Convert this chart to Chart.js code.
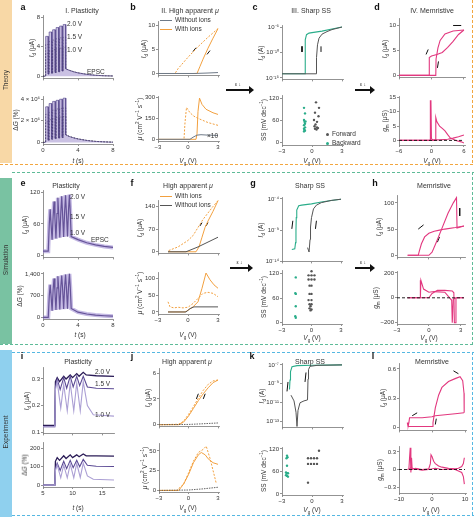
<!DOCTYPE html>
<html><head><meta charset="utf-8">
<script src="https://cdn.jsdelivr.net/npm/chart.js"></script>
<style>
body{margin:0;background:#fff;width:474px;height:517px;overflow:hidden;position:relative;font-family:"Liberation Sans",Arial,sans-serif;color:#333}
.box{position:absolute}
.t{position:absolute;white-space:nowrap;line-height:1;transform:translate(-50%,-50%);font-size:6.5px}
.l{transform:translate(0,-50%)}
.v{transform:translate(-50%,-50%) rotate(-90deg)}
.ttl{font-size:7px;color:#333}
.let{font-size:9px;font-weight:bold;color:#111}
.side{position:absolute;left:0;width:12px}
.dh{position:absolute;height:1.4px}
.dv{position:absolute;width:1.4px}
sub,sup{font-size:70%;line-height:0}
.arr{position:absolute;height:2px;background:#111}
.arr:after{content:"";position:absolute;right:-4px;top:-3px;border-left:5px solid #111;border-top:4px solid transparent;border-bottom:4px solid transparent}
</style></head><body>
<script>
// ---- Theory: plasticity (a)
const aOn = [0.3, 0.7, 1.1, 1.5, 1.9, 2.3];
const aOff = [0.6, 1.0, 1.4, 1.8, 2.2, 2.6];
const aPeak20 = [5.4, 6.0, 6.3, 6.6, 6.8, 7.0];
const aPeak15 = [4.3, 4.7, 4.9, 5.1, 5.2, 5.3];
const aPeak10 = [3.1, 3.4, 3.6, 3.7, 3.8, 3.9];
const aGap = [0.3, 0.4, 0.5, 0.6, 0.7];
const aTail = [[2.6,1.0],[3,0.8],[3.5,0.6],[4,0.45],[5,0.25],[6,0.12],[7,0.06],[8,0.03]];
const aDG20 = [3.3e6, 3.6e6, 3.8e6, 3.9e6, 4.0e6, 4.1e6];
const aDG15 = [2.6e6, 2.8e6, 3.0e6, 3.1e6, 3.15e6, 3.2e6];
const aDG10 = [1.9e6, 2.1e6, 2.2e6, 2.3e6, 2.35e6, 2.4e6];
const aDGGap = [0.2e6, 0.3e6, 0.35e6, 0.4e6, 0.45e6];
const aDGTail = [[2.6,0.7e6],[3,0.55e6],[3.5,0.42e6],[4,0.32e6],[5,0.18e6],[6,0.09e6],[7,0.05e6],[8,0.02e6]];
// ---- Theory: high apparent mobility (b)
const bWithout = [[-3,0],[0.5,0],[1,0.03],[2,0.1],[3,0.2]];
const bWithFwd = [[-3,0],[0.9,0],[1.2,1.5],[1.5,3.0],[2,5.3],[2.5,7.4],[3,9.4]];
const bWithBwd = [[3,9.4],[2,7.6],[1,5.6],[0,3.4],[-1,1.0],[-1.3,0]];
const bMuWithout = [[-3,0],[0.2,0],[0.5,15],[0.9,30],[1.3,33],[2,30],[3,28]];
const bMuFwd = [[-3,0],[0.8,0],[0.9,40],[1.0,200],[1.15,295],[1.4,250],[1.8,215],[2.5,190],[3,178]];
const bMuBwd = [[3,100],[2,120],[1,150],[0.6,165],[0.2,190],[-0.15,228],[-0.3,120],[-0.4,0]];
const bArrows = [[[0.8,5.4],[0.5,4.6]],[[1.9,4.0],[2.2,4.8]]];
// ---- Theory: sharp SS (c), log10 current
const cFwd = [[-3,-14.2],[0.4,-14.2],[0.45,-11],[0.55,-8.5],[0.7,-7.2],[1.0,-6.4],[1.5,-5.9],[2,-5.5],[3,-5.0]];
const cBwd = [[-3,-14.2],[-0.7,-14.2],[-0.7,-10],[-0.65,-7.5],[-0.55,-6.5],[-0.3,-6.2],[0,-6.1],[1,-5.8],[2,-5.4],[3,-5.0]];
const cSSFwd = [[0.4,110],[0.7,95],[0.3,82],[0.65,72],[0.2,62],[0.5,57],[0.35,50],[0.25,45],[0.5,42],[0.6,40],[0.3,38],[0.45,36]];
const cSSBwd = [[-0.8,95],[-0.7,80],[-0.8,62],[-0.75,57],[-0.7,52],[-0.8,48],[-0.7,42],[-0.8,38],[-0.75,35],[-0.7,33],[-0.8,31],[-0.65,58]];
const cArrows = [[[-1.0,-8.8],[-1.0,-9.9]],[[0.9,-9.9],[0.9,-8.8]]];
// ---- Theory: memristive (d)
const dFwd = [[-6,0],[0.8,0],[0.85,3.3],[1.2,5.5],[1.6,7.0],[2.5,8.3],[4,8.9],[6,9.1]];
const dBwd = [[6,9.1],[5,8.2],[4,6.8],[3,5.6],[2,4.6],[1,4.2],[0,3.9],[-0.4,3.6],[-0.4,0],[-6,0]];
const dGmFwd = [[-6,0],[0.7,0],[0.8,8],[1.0,6.5],[1.5,5.0],[2,4.2],[2.5,3.3],[3,2.0],[3.5,0.8],[4.5,0],[5.5,-0.5],[6,-0.9]];
const dGmBwd = [[6,1.9],[5,1.3],[4,0.8],[3,0.4],[1.5,0.2],[0.3,0.2],[0,0.5],[-0.1,14],[-0.2,0],[-6,0]];
const dZero = [[-6,0],[6,0]];
const dArrows = [[[4,10],[5.5,10]],[[-0.6,5.2],[-1.0,4.2]],[[1.1,1.5],[1.3,2.8]]];
// ---- Simulation: plasticity (e)
const e20 = [[0,8],[0.6,8],[0.72,60],[0.82,88],[0.92,60],[1.04,30],[1.16,75],[1.26,103],[1.36,72],[1.48,32],[1.6,80],[1.7,110],[1.8,76],[1.92,34],[2.04,84],[2.14,113],[2.24,78],[2.36,35],[2.48,86],[2.58,115],[2.68,80],[2.8,36],[2.92,88],[3.02,116],[3.12,80],[3.22,36],[4,30],[5,24],[6,20],[7,17],[8,15]];
const eDG = [[0,0],[0.6,0],[0.72,700],[0.82,1050],[0.92,700],[1.04,220],[1.16,900],[1.26,1250],[1.36,850],[1.48,240],[1.6,950],[1.7,1320],[1.8,900],[1.92,260],[2.04,1000],[2.14,1350],[2.24,920],[2.36,270],[2.48,1010],[2.58,1380],[2.68,930],[2.8,280],[2.92,1020],[3.02,1400],[3.12,940],[3.22,290],[4,170],[5,110],[6,75],[7,55],[8,40]];
// ---- Simulation: high apparent mobility (f)
const fWithFwd = [[-2,0],[0.8,0],[1.1,15],[1.4,45],[1.7,75],[2,95],[2.5,125],[3,158]];
const fWithBwd = [[3,158],[2.5,140],[2,120],[1.5,100],[1,75],[0.5,50],[0,35],[-1,15],[-2,3]];
const fWithout = [[-2,0],[-0.2,0],[1,15],[2,30],[3,45]];
const fMuFwd = [[-2,0],[-0.3,0],[0,5],[0.5,15],[1,30],[1.4,70],[1.8,115],[2.2,95],[2.6,80],[3,70]];
const fMuBwd = [[-2,30],[-1.8,15],[-1.4,12],[-1,14],[-0.5,12],[0,14],[0.5,25],[1,40],[1.5,55],[2,58],[2.5,55],[3,45]];
const fMuWithout = [[-2,0],[-0.2,0],[0.2,10],[0.6,15],[3,15]];
const fArrows = [[[1.4,90],[1.2,80]],[[1.8,80],[2.0,90]]];
// ---- Simulation: sharp SS (g), log10 current
const gFwd = [[-0.4,-11.8],[-0.25,-12.5],[-0.15,-10.5],[-0.1,-8.5],[0,-7],[0.2,-5.6],[0.5,-5.0],[1,-4.6],[2,-4.25],[3,-4.05]];
const gBwd = [[-2,-12.1],[-1.7,-12.0],[-1.62,-11],[-1.58,-9],[-1.55,-7],[-1.5,-5.8],[-1.3,-5.1],[-1,-5.0],[0,-4.8],[1,-4.5],[2,-4.25],[3,-4.05]];
const gSSFwd = [[0,125],[-0.3,115],[0,115],[0.3,115],[-0.3,105],[0,105],[0.3,105],[0,90],[-0.2,90],[0,70],[-0.2,70],[0,55],[-0.3,55],[0,45],[-0.2,45],[-0.1,40],[-0.2,35],[0,32],[-0.1,30]];
const gSSBwd = [[-1.6,110],[-1.65,72],[-1.6,70],[-1.6,40],[-1.65,16],[-1.6,12]];
const gArrows = [[[-1.9,-7.5],[-2.0,-8.8]],[[0.4,-8.8],[0.5,-7.5]]];
// ---- Simulation: memristive (h)
const hFwd = [[-2,0],[0,0],[0.3,6],[0.7,25],[1.2,50],[1.8,80],[2.3,100],[2.6,110],[2.65,52],[3.3,56]];
const hBwd = [[3.3,56],[2.5,53],[1.5,50],[1,48],[0.5,46],[0,42],[-0.4,35],[-0.7,22],[-0.9,8],[-1,0],[-2,0]];
const hGmFwd = [[-2,0],[0,0],[0.3,35],[0.8,60],[1.5,60],[2.2,55],[2.35,40],[2.4,-200],[2.5,-200],[2.55,0],[3.3,0]];
const hGmBwd = [[3.3,0],[2.6,0],[2.3,-10],[2.2,-200],[2.15,-20],[1.5,45],[0.5,50],[0,45],[-0.5,70],[-0.75,140],[-0.8,0],[-2,0]];
const hZero = [[-3,0],[3.3,0]];
const hArrows = [[[-0.5,58],[-1.0,50]],[[0.8,25],[1.0,35]],[[2.9,90],[2.9,75]]];
// ---- Experiment: plasticity (i)
const i20 = [[5,0.125],[7,0.125],[7.1,0.29],[7.4,0.305],[7.8,0.29],[8.5,0.31],[8.9,0.3],[9.6,0.315],[10.0,0.305],[10.7,0.32],[11.1,0.31],[11.8,0.325],[12.3,0.315],[14,0.312],[17,0.31]];
const i15 = [[5,0.12],[7,0.12],[7.1,0.27],[7.4,0.3],[7.9,0.26],[8.5,0.305],[9,0.265],[9.6,0.31],[10.1,0.27],[10.7,0.31],[11.2,0.275],[11.8,0.31],[12.5,0.27],[14,0.265],[17,0.263]];
const i10 = [[5,0.12],[7,0.12],[7.1,0.26],[7.4,0.29],[8.0,0.19],[8.5,0.28],[9.1,0.18],[9.6,0.285],[10.2,0.18],[10.7,0.285],[11.3,0.18],[11.8,0.29],[12.5,0.2],[13.5,0.165],[17,0.16]];
const iDG20 = [[5,0],[7,0],[7.1,130],[7.4,150],[7.8,135],[8.5,160],[8.9,145],[9.6,165],[10.0,150],[10.7,165],[11.1,155],[11.8,170],[12.3,160],[14,160],[17,158]];
const iDG15 = [[5,0],[7,0],[7.1,90],[7.4,120],[7.9,80],[8.5,130],[9,90],[9.6,135],[10.1,95],[10.7,135],[11.2,100],[11.8,140],[12.5,108],[14,103],[17,102]];
const iDG10 = [[5,0],[7,0],[7.1,80],[7.4,110],[8.0,40],[8.5,110],[9.1,40],[9.6,115],[10.2,40],[10.7,118],[11.3,42],[11.8,120],[12.5,50],[13.5,32],[17,28]];
// ---- Experiment: high apparent mobility (j)
const jFwd = [[-3,0],[-1,0],[-0.5,0.3],[0,1.0],[0.5,1.9],[1,2.8],[1.5,3.6],[2,4.3],[2.5,4.9],[3,5.2]];
const jBwd = [[3,5.2],[2.5,5.1],[2,4.7],[1.5,4.0],[1,3.1],[0.5,2.1],[0,1.2],[-0.5,0.4],[-1,0.05],[-3,0]];
const jWithout = [[-3,0],[0,0.03],[1,0.08],[2,0.14],[3,0.2]];
const jMuFwd = [[-3,0],[-1,0],[-0.5,8],[0,20],[0.5,35],[1,45],[1.3,48],[1.7,45],[2,40],[2.5,35],[3,33]];
const jMuBwd = [[2.8,10],[2.5,25],[2.2,40],[1.8,56],[1.5,52],[1,48],[0.5,37],[0,22],[-0.5,8],[-1.2,0],[-3,0]];
const jMuWithout = [[-3,0],[0,0.5],[1.5,2],[3,4]];
const jArrows = [[[1.0,3.6],[0.8,3.0]],[[1.5,3.0],[1.7,3.6]]];
// ---- Experiment: sharp SS (k), log10 current
const kFwd = [[-2.1,-10.2],[-1.8,-10.8],[-1.6,-12.0],[-1.5,-13.5],[-1.4,-11.8],[-1.2,-11.0],[-0.8,-10.8],[-0.45,-10.7],[-0.4,-8.5],[-0.35,-7.5],[-0.2,-7.15],[0.5,-7.05],[3,-7.0]];
const kBwd = [[-2.25,-9.6],[-2.2,-8.6],[-2.15,-7.7],[-2.0,-7.2],[-1.5,-7.08],[0,-7.03],[3,-7.0]];
const kSSFwd = [[0.7,115],[-0.4,95],[-0.1,95],[0.2,95],[0.5,95],[-0.4,80],[-0.1,80],[0.2,80],[0.5,80],[-0.4,30]];
const kSSBwd = [[-2.5,102],[-2.45,98],[-2.55,95],[-2.5,75],[-2.6,57],[-2.5,55],[-2.4,55],[-2.6,50],[-2.5,48],[-2.4,46]];
const kArrows = [[[-2.4,-8.8],[-2.5,-9.8]],[[-0.7,-8.8],[-0.6,-7.8]]];
// ---- Experiment: memristive (l)
const lFwd = [[-7.5,0.05],[-7.2,0.01],[-3,0.01],[0,0.01],[0.3,0.05],[1,0.2],[2,0.33],[3,0.41],[5,0.47],[7,0.5],[8.5,0.52],[9.3,0.48],[9.7,0.35],[9.8,0.2],[9.7,0.15]];
const lBwd = [[9.7,0.15],[7,0.14],[4,0.13],[1,0.12],[0,0.11],[-3,0.1],[-6,0.1],[-6.8,0.1],[-7,0.05],[-7.2,0.02]];
const lGmFwd = [[-7.5,0],[-7,0.01],[-6.8,0.2],[-6.6,0.37],[-6.4,-0.05],[-6.2,0.2],[-6,0.0],[-5,0.02],[-3,0.0],[-1,0.01],[-0.5,0.1],[-0.3,0.25],[0,0.22],[0.5,0.14],[1,0.1],[2,0.06],[3,0.04],[5,0.02],[7,0.01],[8,0.02],[9,0.05],[9.5,0.1],[9.8,0.2]];
const lGmBwd = [[9.8,-0.25],[9.5,-0.12],[9,-0.05],[7,0.0],[5,0.01],[3,0.0],[1,0.02],[-1,0.0],[-3,-0.01],[-5,0.01],[-6.5,0.03],[-7,0.0]];
const lZero = [[-10,0],[10,0]];
const lArrows = [[[6.5,0.58],[8.0,0.55]],[[-4.5,0.15],[-6.0,0.12]],[[1.0,0.03],[1.3,0.09]]];

const FAM = '"Liberation Sans", Arial, sans-serif';
const TICK = 6;
const C = {p1:'#2b1c57', p2:'#5b4a94', p3:'#ab9fd4', pe:'#4a3a84', pf:'rgba(150,132,200,0.5)', or:'#f2a03f', gr:'#6f7a88', gk:'#555', gn:'#2aad8a', pk:'#e2387f'};

function train(peaks, gaps, tail){
  const p = [[0,0],[aOn[0],0]];
  peaks.forEach((v,i)=>{
    p.push([aOn[i],v],[aOff[i],v]);
    if(i<gaps.length) p.push([aOff[i],gaps[i]],[aOn[i+1],gaps[i]]);
  });
  p.push([aOff[peaks.length-1], tail[0][1]]);
  return p.concat(tail);
}
const L10 = a => a.map(([x,e])=>[x,Math.pow(10,e)]);
function line(data,color,o={}){
  return {data, borderColor:color, borderWidth:o.w||1, borderDash:o.dash||[], pointRadius:0, showLine:true,
    fill:o.fill||false, backgroundColor:o.bg||color, tension:0};
}
function dots(data,color){
  return {data, showLine:false, pointRadius:1.2, pointBorderWidth:0, pointBackgroundColor:color, borderColor:color, backgroundColor:color};
}
function arrows(list){ return list.map(a=>line(a,'#111',{w:1})); }
const supMap = {'-':'⁻','0':'⁰','1':'¹','2':'²','3':'³','4':'⁴','5':'⁵','6':'⁶','7':'⁷','8':'⁸','9':'⁹'};
const sup = n => String(n).split('').map(c=>supMap[c]).join('');
function fmt(v){
  if(v<0) return '−'+fmt(-v);
  return v>=1000 ? v.toLocaleString('en-US') : String(v);
}
const meas = document.createElement('canvas').getContext('2d');

function el(cls, css, html){
  const d = document.createElement('div'); d.className = cls; d.style.cssText = css;
  if(html!==undefined) d.innerHTML = html; document.body.appendChild(d); return d;
}
function txt(x,y,html,cls){ return el('t '+(cls||''), `left:${x}px;top:${y}px`, html); }

function mk(p){
  const k = c => (c[3]-c[1])/(c[2]-c[0]);
  const px = (c,v) => c[1]+(v-c[0])*k(c);
  const L = Math.round(px(p.xcal,p.xr[0])), R = Math.round(px(p.xcal,p.xr[1]));
  const B = Math.round(px(p.ycal,p.yr[0])), T = Math.round(px(p.ycal,p.yr[1]));
  const YW = 34, PT = 5, PR = 6, XH = p.xlab ? 11 : 3;
  const div = document.createElement('div');
  div.className = 'box';
  div.style.left = (L-YW)+'px'; div.style.top = (T-PT)+'px';
  const cv = document.createElement('canvas');
  cv.width = R-L+YW+PR; cv.height = B-T+PT+XH;
  div.appendChild(cv); document.body.appendChild(div);
  const tk = {color:'#333', font:{size:TICK, family:FAM}, padding:1, maxRotation:0, autoSkip:false};
  const grid = {drawOnChartArea:false, color:'#777', tickLength:2, lineWidth:0.8};
  const yLab = p.ytl ? (v,i)=>p.ytl[i] : (p.log ? v=>'10'+sup(Math.round(Math.log10(v))) : fmt);
  new Chart(cv, {
    type:'scatter',
    data:{datasets:p.sets()},
    options:{
      responsive:false, animation:false, events:[],
      layout:{padding:{left:0, top:PT, right:PR, bottom:0}},
      plugins:{legend:{display:false}, tooltip:{enabled:false}},
      scales:{
        x:{type:'linear', min:p.xr[0], max:p.xr[1], border:{color:'#777', width:0.8}, grid,
          ticks:Object.assign({}, tk, {display:!!p.xlab, callback:fmt}),
          afterBuildTicks:s=>{s.ticks = p.xt.map(v=>({value:v}));},
          afterFit:s=>{s.height = XH;}},
        y:{type:p.log?'logarithmic':'linear',
          min:p.log?Math.pow(10,p.yr[0]):p.yr[0], max:p.log?Math.pow(10,p.yr[1]):p.yr[1],
          border:{color:'#777', width:0.8}, grid,
          ticks:Object.assign({}, tk, {callback:yLab}),
          afterBuildTicks:s=>{s.ticks = p.yt.map(v=>({value:p.log?Math.pow(10,v):v}));},
          afterFit:s=>{s.width = YW;}}
      }
    }
  });
  // y title placed just left of the widest tick label
  meas.font = TICK+'px '+FAM;
  const labs = p.yt.map((v,i)=> p.ytl ? p.ytl[i] : (p.log ? '10'+sup(v) : fmt(v)));
  const w = Math.max(...labs.map(s=>meas.measureText(s).width));
  txt(L-3-w-4.5, (T+B)/2, p.ytitle, 'v');
}

const Id = '<i>I</i><sub>d</sub> (μA)', IdA = '<i>I</i><sub>d</sub> (A)', dG = 'Δ<i>G</i> (%)',
  mu = '<i>μ</i> (cm<sup>2</sup> V<sup>−1</sup> s<sup>−1</sup>)', SS = 'SS (mV dec<sup>−1</sup>)', gm = '<i>g</i><sub>m</sub> (μS)',
  Vg = '<i>V</i><sub>g</sub> (V)', ts = '<i>t</i> (s)';

const xA=[0,43,8,113], xB=[-3,158,3,218], xC=[-3,282,3,342], xD=[-6,399,6,464];
const xE=[0,43,8,113], xF=[-3,158,3,218], xG=[-3,282,3,341], xH=[-3,397,3,461];
const xI=[5,43,15,102], xJ=[-3,159,3,218], xK=[-3,282,3,342], xL=[-10,399,10,465];

const specs = [
 {ytitle:Id, xcal:xA, ycal:[0,78,8,17], xr:[0,8], yr:[-0.3,8.3], xt:[0,4,8], yt:[0,4,8], sets:()=>[
   line(train(aPeak20,aGap,aTail),C.pe,{w:0.6,fill:'origin',bg:C.pf}),
   line(train(aPeak15,aGap,aTail),'#222',{w:0.6,dash:[1.5,1.5]}),
   line(train(aPeak10,aGap,aTail),'#222',{w:0.6,dash:[1.5,1.5]})]},
 {ytitle:dG, xcal:xA, ycal:[0,142,4e6,99], xr:[0,8], yr:[-0.15e6,4.3e6], xt:[0,4,8], yt:[0,2e6,4e6], ytl:['0','2 × 10⁶','4 × 10⁶'], xlab:true, sets:()=>[
   line(train(aDG20,aDGGap,aDGTail),C.pe,{w:0.6,fill:'origin',bg:C.pf}),
   line(train(aDG15,aDGGap,aDGTail),'#222',{w:0.6,dash:[1.5,1.5]}),
   line(train(aDG10,aDGGap,aDGTail),'#222',{w:0.6,dash:[1.5,1.5]})]},
 {ytitle:Id, xcal:xB, ycal:[0,75,10,26], xr:[-3,3.1], yr:[-0.4,11], xt:[-3,0,3], yt:[0,5,10], sets:()=>[
   line(bWithout,C.gr,{w:1}), line(bWithFwd,C.or,{w:1}), line(bWithBwd,C.or,{w:1,dash:[2,1.5]}), ...arrows(bArrows)]},
 {ytitle:mu, xcal:xB, ycal:[0,139,300,97], xr:[-3,3.1], yr:[-12,310], xt:[-3,0,3], yt:[0,150,300], xlab:true, sets:()=>[
   line(bMuWithout,C.gr,{w:1}), line(bMuFwd,C.or,{w:1}), line(bMuBwd,C.or,{w:1,dash:[2,1.5]})]},
 {ytitle:IdA, xcal:xC, ycal:[-15,79,-5,27], log:true, xr:[-3,3.1], yr:[-15.3,-4.6], xt:[-3,0,3], yt:[-15,-10,-5], sets:()=>[
   line(L10(cFwd),C.gk,{w:1}), line(L10(cBwd),C.gn,{w:1.1}), ...arrows(cArrows.map(L10))]},
 {ytitle:SS, xcal:xC, ycal:[0,143,120,99], xr:[-3,3.1], yr:[-6,130], xt:[-3,0,3], yt:[0,60,120], xlab:true, sets:()=>[
   dots(cSSFwd,C.gk), dots(cSSBwd,C.gn)]},
 {ytitle:Id, xcal:xD, ycal:[0,77,10,26], xr:[-6,6.2], yr:[-0.4,11.5], xt:[-6,0,6], yt:[0,5,10], sets:()=>[
   line(dFwd,C.pk,{w:1.1}), line(dBwd,C.pk,{w:1.1}), ...arrows(dArrows)]},
 {ytitle:gm, xcal:xD, ycal:[0,140,15,97], xr:[-6,6.2], yr:[-1.6,15.5], xt:[-6,0,6], yt:[0,5,10,15], xlab:true, sets:()=>[
   line(dZero,'#111',{w:0.9,dash:[3,2]}), line(dGmFwd,C.pk,{w:1.1}), line(dGmBwd,C.pk,{w:1.1})]},

 {ytitle:Id, xcal:xE, ycal:[0,257,120,193], xr:[0,8], yr:[-4,125], xt:[0,4,8], yt:[0,60,120], sets:()=>[
   line(e20,'rgba(150,130,205,0.55)',{w:4}), line(e20,C.p1,{w:1.2})]},
 {ytitle:dG, xcal:xE, ycal:[0,317,1400,274], xr:[0,8], yr:[-50,1460], xt:[0,4,8], yt:[0,700,1400], xlab:true, sets:()=>[
   line(eDG,'rgba(150,130,205,0.55)',{w:4}), line(eDG,C.p1,{w:1.2})]},
 {ytitle:Id, xcal:xF, ycal:[0,253,140,207], xr:[-3,3.1], yr:[-5,160], xt:[-3,0,3], yt:[0,70,140], sets:()=>[
   line(fWithout,C.gk,{w:1}), line(fWithFwd,C.or,{w:1}), line(fWithBwd,C.or,{w:1,dash:[2,1.5]}), ...arrows(fArrows)]},
 {ytitle:mu, xcal:xF, ycal:[0,312,100,278], xr:[-3,3.1], yr:[-6,118], xt:[-3,0,3], yt:[0,50,100], xlab:true, sets:()=>[
   line(fMuWithout,C.gk,{w:1}), line(fMuFwd,C.or,{w:1}), line(fMuBwd,C.or,{w:1,dash:[2,1.5]})]},
 {ytitle:IdA, xcal:xG, ycal:[-14,263,-4,199], log:true, xr:[-3,3.1], yr:[-14,-3.7], xt:[-3,0,3], yt:[-14,-9,-4], sets:()=>[
   line(L10(gFwd),C.gk,{w:1}), line(L10(gBwd),C.gn,{w:1.1}), ...arrows(gArrows.map(L10))]},
 {ytitle:SS, xcal:xG, ycal:[0,323,120,273], xr:[-3,3.1], yr:[-3,128], xt:[-3,0,3], yt:[0,60,120], xlab:true, sets:()=>[
   dots(gSSFwd,C.gk), dots(gSSBwd,C.gn)]},
 {ytitle:Id, xcal:xH, ycal:[0,257,100,203], xr:[-3,3.4], yr:[-4,115], xt:[-3,0,3], yt:[0,50,100], sets:()=>[
   line(hFwd,C.pk,{w:1.1}), line(hBwd,C.pk,{w:1.1}), ...arrows(hArrows)]},
 {ytitle:gm, xcal:xH, ycal:[-200,323,200,273], xr:[-3,3.4], yr:[-210,215], xt:[-3,0,3], yt:[-200,0,200], xlab:true, sets:()=>[
   line(hZero,'#111',{w:0.9,dash:[3,2]}), line(hGmFwd,C.pk,{w:1.1}), line(hGmBwd,C.pk,{w:1.1})]},

 {ytitle:Id, xcal:xI, ycal:[0.1,434,0.3,379], xr:[5,17], yr:[0.095,0.345], xt:[5,10,15], yt:[0.1,0.2,0.3], sets:()=>[
   line(i10,C.p3,{w:1.1}), line(i15,C.p2,{w:1.1}), line(i20,C.p1,{w:1.3})]},
 {ytitle:dG, xcal:xI, ycal:[0,485,200,448], xr:[5,17], yr:[-10,235], xt:[5,10,15], yt:[0,100,200], xlab:true, sets:()=>[
   line(iDG10,C.p3,{w:1.1}), line(iDG15,C.p2,{w:1.1}), line(iDG20,C.p1,{w:1.3})]},
 {ytitle:Id, xcal:xJ, ycal:[0,426,6,373], xr:[-3,3.1], yr:[-0.2,6.6], xt:[-3,0,3], yt:[0,3,6], sets:()=>[
   line(jWithout,C.gk,{w:0.9,dash:[1.5,1]}), line(jFwd,C.or,{w:1}), line(jBwd,C.or,{w:1,dash:[2,1.5]}), ...arrows(jArrows)]},
 {ytitle:mu, xcal:xJ, ycal:[0,490,50,451], xr:[-3,3.1], yr:[-2,60], xt:[-3,0,3], yt:[0,25,50], xlab:true, sets:()=>[
   line(jMuWithout,C.gk,{w:0.9,dash:[1.5,1]}), line(jMuFwd,C.or,{w:1}), line(jMuBwd,C.or,{w:1,dash:[2,1.5]})]},
 {ytitle:IdA, xcal:xK, ycal:[-13,423,-7,365], log:true, xr:[-3,3.1], yr:[-13.6,-6.8], xt:[-3,0,3], yt:[-13,-11,-9,-7], sets:()=>[
   line(L10(kFwd),C.gk,{w:1}), line(L10(kBwd),C.gn,{w:1.1}), ...arrows(kArrows.map(L10))]},
 {ytitle:SS, xcal:xK, ycal:[0,494,120,449], xr:[-3,3.1], yr:[-3,125], xt:[-3,0,3], yt:[0,60,120], xlab:true, sets:()=>[
   dots(kSSFwd,C.gk), dots(kSSBwd,C.gn)]},
 {ytitle:Id, xcal:xL, ycal:[0,429,0.6,369], xr:[-10,10.3], yr:[-0.03,0.66], xt:[-10,0,10], yt:[0,0.3,0.6], sets:()=>[
   line(lFwd,C.pk,{w:1.1}), line(lBwd,C.pk,{w:1.1}), ...arrows(lArrows)]},
 {ytitle:gm, xcal:xL, ycal:[-0.3,487,0.3,452], xr:[-10,10.3], yr:[-0.4,0.4], xt:[-10,0,10], yt:[-0.3,0,0.3], xlab:true, sets:()=>[
   line(lZero,'#111',{w:0.9,dash:[3,2]}), line(lGmFwd,C.pk,{w:1.1}), line(lGmBwd,C.pk,{w:1.1})]}
];
specs.forEach(mk);

// ---- decoration / text
function dash(x,y,w,color){ el('dh', `left:${x}px;top:${y}px;width:${w}px;background:repeating-linear-gradient(90deg,${color} 0 3px,transparent 3px 5px)`); }
function vdash(x,y,h,color){ el('dv', `left:${x}px;top:${y}px;height:${h}px;background:repeating-linear-gradient(180deg,${color} 0 3px,transparent 3px 5px)`); }

el('side','top:0;height:163px;background:#f8d8a6');
el('side','top:178px;height:166px;background:#79c2a2');
el('side','top:350px;height:167px;background:#8fd0ee');
txt(6,80,'Theory','v');
txt(6,260,'Simulation','v');
txt(6,432,'Experiment','v');
dash(0,164,474,'#f2a640'); vdash(472,0,165,'#f2a640');
dash(12,172,462,'#5fbb98'); dash(0,344,474,'#5fbb98'); vdash(472,172,172,'#5fbb98');
dash(12,352,462,'#55b8e2'); dash(12,515,462,'#55b8e2'); vdash(472,352,164,'#55b8e2');

const letters = [['a',23,7],['b',133,7],['c',255,7],['d',377,7],['e',23,183],['f',132,183],['g',253,183],['h',375,183],['i',22,356],['j',132,356],['k',252,356],['l',373,356]];
letters.forEach(([s,x,y])=>txt(x,y,s,'let'));
const titles = [['I. Plasticity',82,10],['II. High apparent <i>μ</i>',190,10],['III. Sharp SS',311,10],['IV. Memristive',432,10],
 ['Plasticity',66,185],['High apparent <i>μ</i>',188,185],['Sharp SS',310,185],['Memristive',434,185],
 ['Plasticity',78,361],['High apparent <i>μ</i>',187,361],['Sharp SS',310,361],['Memristive',432,361]];
titles.forEach(([s,x,y])=>txt(x,y,s,'ttl'));

const xtitles = [[ts,78,161],[Vg,188,161],[Vg,312,161],[Vg,432,161],[ts,80,335],[Vg,188,335],[Vg,312,338],[Vg,429,338],
 [ts,78,508],[Vg,188,508],[Vg,312,510],[Vg,431,510]];
xtitles.forEach(([s,x,y])=>txt(x,y,s));

// in-plot labels
[['2.0 V',67,24],['1.5 V',67,37],['1.0 V',67,50],['EPSC',87,72],
 ['2.0 V',70,197],['1.5 V',70,217],['1.0 V',70,233],['EPSC',91,240],
 ['2.0 V',95,372],['1.5 V',95,384],['1.0 V',95,415],['×10',207,136]].forEach(([s,x,y])=>txt(x,y,s,'l'));

// legends
function legLine(x,y,color,label){ el('dh',`left:${x}px;top:${y}px;width:12px;height:1.2px;background:${color}`); txt(x+15,y,label,'l'); }
legLine(160,20,C.gr,'Without ions'); legLine(160,29,C.or,'With ions');
legLine(160,196,C.or,'With ions'); legLine(160,205,C.gk,'Without ions');
function legDot(x,y,color,label){ el('dh',`left:${x-1.5}px;top:${y-1.5}px;width:3px;height:3px;border-radius:50%;background:${color}`); txt(x+5,y,label,'l'); }
legDot(327,134,C.gk,'Forward'); legDot(327,143,C.gn,'Backward');

// column arrows
[[226,89,24],[355,89,16],[230,267,19],[355,267,16]].forEach(([x,y,w])=>{
  el('arr',`left:${x}px;top:${y}px;width:${w}px`);
  txt(x+w/2,y-5,'ε ↓','').style.fontSize='5px';
});
</script>
</body></html>
